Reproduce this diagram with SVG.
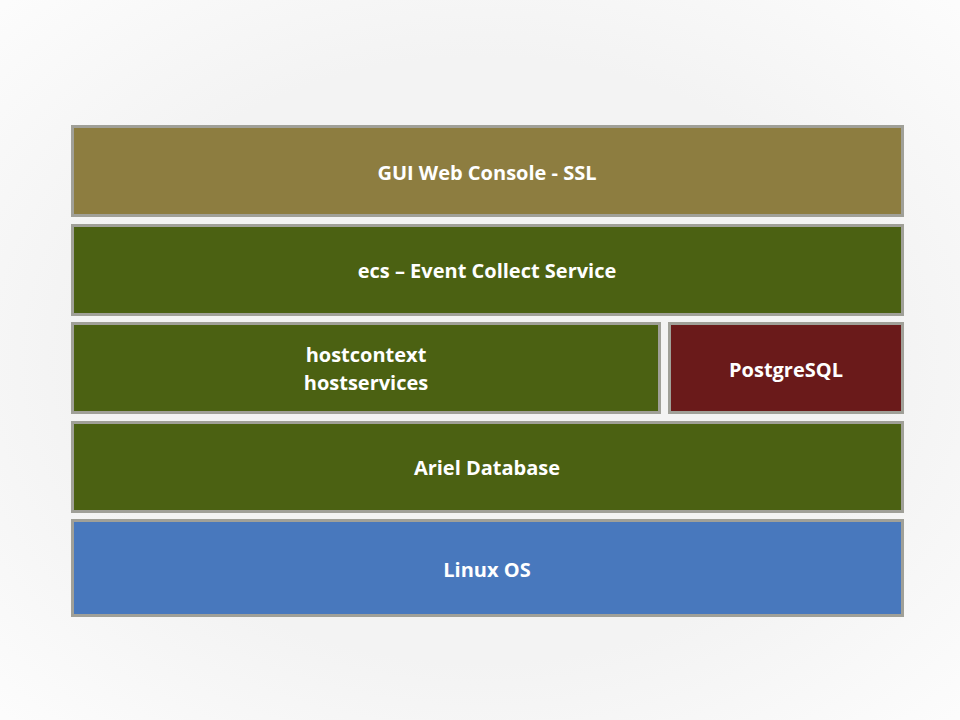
<svg xmlns="http://www.w3.org/2000/svg" width="960" height="720" viewBox="0 0 960 720">
<style>
.b{stroke:#a0a098;stroke-width:3}
.t{font-family:"Open Sans","Liberation Sans",sans-serif;font-weight:bold;font-size:20px;fill:#fff;text-anchor:middle}
</style>
<defs>
<radialGradient id="bg" cx="0.5" cy="0.5" r="0.7"><stop offset="0.6" stop-color="#f3f3f3"/><stop offset="1" stop-color="#fcfcfc"/></radialGradient>
</defs>
<rect width="960" height="720" fill="url(#bg)"/>
<g id="gui"><rect class="b" x="72.5" y="126.5" width="830" height="89" fill="#8d7d40"/><text class="t" x="487" y="180">GUI Web Console - SSL</text></g>
<g id="ecs"><rect class="b" x="72.5" y="225.5" width="830" height="89" fill="#4b6112"/><text class="t" x="487" y="278">ecs – Event Collect Service</text></g>
<g id="host"><rect class="b" x="72.5" y="323.5" width="587" height="89" fill="#4b6112"/><text class="t" x="366" y="362">hostcontext</text><text class="t" x="366" y="390">hostservices</text></g>
<g id="pg"><rect class="b" x="669.5" y="323.5" width="233" height="89" fill="#6a1a1a"/><text class="t" x="786" y="377">PostgreSQL</text></g>
<g id="ariel"><rect class="b" x="72.5" y="422.5" width="830" height="89" fill="#4b6112"/><text class="t" x="487" y="475">Ariel Database</text></g>
<g id="linux"><rect class="b" x="72.5" y="520.5" width="830" height="95" fill="#4878bd"/><text class="t" x="487" y="577">Linux OS</text></g>
<g id="connectors"/>
</svg>
